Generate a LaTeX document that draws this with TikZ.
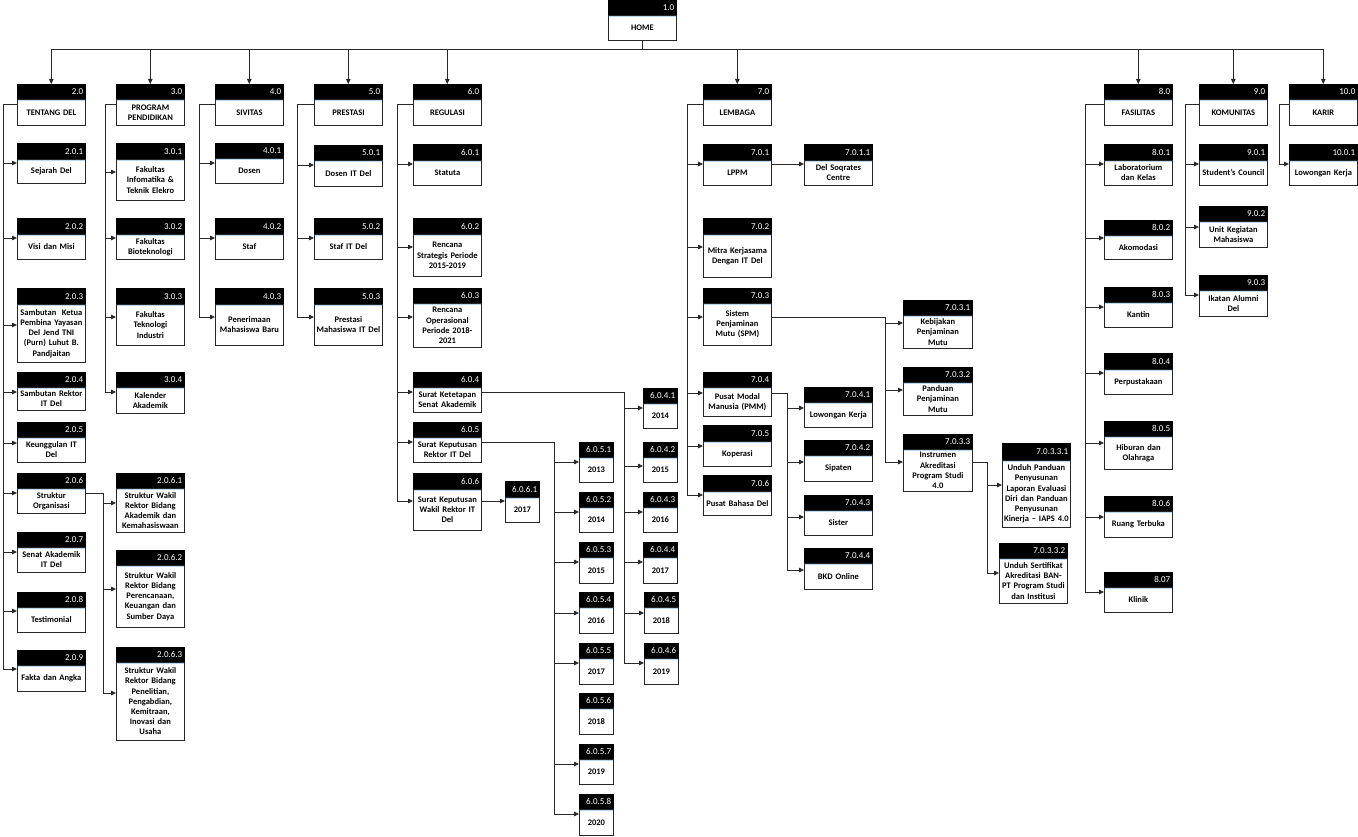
\documentclass[tikz,border=0pt]{standalone}
\usepackage{fontspec}
\setmainfont{Carlito}
\usetikzlibrary{arrows.meta}
\definecolor{lc}{RGB}{40,40,40}
\definecolor{bl}{RGB}{190,215,240}
\tikzset{
 hdr/.style={anchor=north west, fill=black, draw=black, line width=0.6pt, text=white, align=right, inner xsep=2pt, inner ysep=0pt, font=\fontsize{9}{10}\selectfont},
 bodybox/.style={anchor=north west, fill=white, draw=black!85, line width=0.8pt, align=center, inner xsep=1pt, inner ysep=1pt, font=\fontsize{8.5}{10.2}\selectfont\bfseries},
 ln/.style={draw=lc, line width=0.8pt},
 arr/.style={ln, -{Triangle[length=5pt,width=4.5pt]}},
 blueline/.style={draw=bl, line width=0.9pt}
}
% name, x, w, top, header bottom, bottom, number, text
\newcommand\bx[8]{%
  \pgfmathsetmacro\bxhh{#5-#4}%
  \pgfmathsetmacro\bxbh{#6-#5}%
  \pgfmathsetmacro\bxtw{#3-4}%
  \pgfmathsetmacro\bxbw{#3-2}%
  \node[hdr,minimum width=#3pt,minimum height=\bxhh pt,text width=\bxtw pt] (#1h) at (#2,#4) {#7};
  \node[bodybox,minimum width=#3pt,minimum height=\bxbh pt,text width=\bxbw pt] (#1) at (#2,#5) {#8};
  \draw[blueline] ([yshift=-1pt,xshift=0.6pt]#1.north west) -- ([yshift=-1pt,xshift=-0.6pt]#1.north east);
}
\newcommand\conn[3]{\draw[arr] (#1,#2) -- (#3.west |- #1,#2);}
\begin{document}
\begin{tikzpicture}[x=1pt,y=-1pt]
\useasboundingbox[fill=white] (0,0) rectangle (1358,837);
% level 0/1
\bx{n10}{608}{68}{0}{15}{40}{1.0}{HOME}
\bx{n20}{17}{68}{84}{99}{125}{2.0}{TENTANG DEL}
\bx{n30}{116}{68}{84}{99}{125}{3.0}{PROGRAM\\PENDIDIKAN}
\bx{n40}{215}{68}{84}{99}{125}{4.0}{SIVITAS}
\bx{n50}{314}{68}{84}{99}{125}{5.0}{PRESTASI}
\bx{n60}{413}{68}{84}{99}{125}{6.0}{REGULASI}
\bx{n70}{703}{68}{84}{99}{125}{7.0}{LEMBAGA}
\bx{n80}{1104}{68}{84}{99}{125}{8.0}{FASILITAS}
\bx{n90}{1199}{68}{84}{99}{125}{9.0}{KOMUNITAS}
\bx{n100}{1289}{68}{84}{99}{125}{10.0}{KARIR}
% 2.0
\bx{n201}{17}{68}{143}{159}{183}{2.0.1}{Sejarah Del}
\bx{n202}{17}{68}{218}{234}{259}{2.0.2}{Visi dan Misi}
\bx{n203}{17}{68}{288}{304}{362}{2.0.3}{Sambutan\ \ Ketua\\Pembina Yayasan\\Del Jend TNI\\(Purn) Luhut B.\\Pandjaitan}
\bx{n204}{17}{68}{372}{387}{410}{2.0.4}{Sambutan Rektor\\IT Del}
\bx{n205}{17}{68}{422}{437}{462}{2.0.5}{Keunggulan IT\\Del}
\bx{n206}{17}{68}{473}{488}{513}{2.0.6}{Struktur\\Organisasi}
\bx{n207}{17}{68}{532}{547}{572}{2.0.7}{Senat Akademik\\IT Del}
\bx{n208}{17}{68}{592}{607}{632}{2.0.8}{Testimonial}
\bx{n209}{17}{68}{650}{665}{691}{2.0.9}{Fakta dan Angka}
\bx{n2061}{116}{68}{473}{488}{532}{2.0.6.1}{Struktur Wakil\\Rektor Bidang\\Akademik dan\\Kemahasiswaan}
\bx{n2062}{116}{68}{550}{565}{627}{2.0.6.2}{Struktur Wakil\\Rektor Bidang\\Perencanaan,\\Keuangan dan\\Sumber Daya}
\bx{n2063}{116}{68}{647}{662}{740}{2.0.6.3}{Struktur Wakil\\Rektor Bidang\\Penelitian,\\Pengabdian,\\Kemitraan,\\Inovasi dan\\Usaha}
% 3.0
\bx{n301}{116}{68}{143}{159}{200}{3.0.1}{Fakultas\\Infomatika \&\\Teknik Elekro}
\bx{n302}{116}{68}{218}{234}{259}{3.0.2}{Fakultas\\Bioteknologi}
\bx{n303}{116}{68}{288}{304}{345}{3.0.3}{Fakultas\\Teknologi\\Industri}
\bx{n304}{116}{68}{372}{387}{413}{3.0.4}{Kalender\\Akademik}
% 4.0
\bx{n401}{215}{68}{143}{158}{183}{4.0.1}{Dosen}
\bx{n402}{215}{68}{218}{234}{259}{4.0.2}{Staf}
\bx{n403}{215}{68}{288}{304}{345}{4.0.3}{Penerimaan\\Mahasiswa Baru}
% 5.0
\bx{n501}{314}{68}{145}{160}{186}{5.0.1}{Dosen IT Del}
\bx{n502}{314}{68}{218}{234}{259}{5.0.2}{Staf IT Del}
\bx{n503}{314}{68}{288}{304}{345}{5.0.3}{Prestasi\\Mahasiswa IT Del}
% 6.0
\bx{n601}{413}{68}{144}{160}{185}{6.0.1}{Statuta}
\bx{n602}{413}{68}{218}{234}{276}{6.0.2}{Rencana\\Strategis Periode\\2015-2019}
\bx{n603}{413}{68}{288}{303}{347}{6.0.3}{Rencana\\Operasional\\Periode 2018-\\2021}
\bx{n604}{413}{68}{372}{387}{412}{6.0.4}{Surat Ketetapan\\Senat Akademik}
\bx{n605}{413}{68}{422}{437}{462}{6.0.5}{Surat Keputusan\\Rektor IT Del}
\bx{n606}{413}{68}{473}{489}{530}{6.0.6}{Surat Keputusan\\Wakil Rektor IT\\Del}
\bx{n6041}{643}{34}{388}{403}{428}{6.0.4.1}{2014}
\bx{n6042}{643}{34}{442}{457}{482}{6.0.4.2}{2015}
\bx{n6043}{643}{34}{492}{507}{532}{6.0.4.3}{2016}
\bx{n6044}{643}{34}{542}{557}{583}{6.0.4.4}{2017}
\bx{n6045}{644}{34}{592}{607}{633}{6.0.4.5}{2018}
\bx{n6046}{644}{34}{643}{658}{684}{6.0.4.6}{2019}
\bx{n6051}{579}{34}{442}{457}{482}{6.0.5.1}{2013}
\bx{n6052}{579}{34}{492}{507}{532}{6.0.5.2}{2014}
\bx{n6053}{579}{34}{542}{557}{583}{6.0.5.3}{2015}
\bx{n6054}{579}{34}{592}{607}{633}{6.0.5.4}{2016}
\bx{n6055}{579}{34}{643}{658}{684}{6.0.5.5}{2017}
\bx{n6056}{579}{34}{693}{708}{734}{6.0.5.6}{2018}
\bx{n6057}{579}{34}{744}{759}{784}{6.0.5.7}{2019}
\bx{n6058}{579}{34}{794}{809}{835}{6.0.5.8}{2020}
\bx{n6061}{505}{34}{481}{497}{522}{6.0.6.1}{2017}
% 7.0
\bx{n701}{703}{68}{144}{160}{185}{7.0.1}{LPPM}
\bx{n7011}{804}{68}{144}{160}{185}{7.0.1.1}{Del Soqrates\\Centre}
\bx{n702}{703}{68}{218}{234}{277}{7.0.2}{Mitra Kerjasama\\Dengan IT Del}
\bx{n703}{703}{68}{288}{303}{345}{7.0.3}{Sistem\\Penjaminan\\Mutu (SPM)}
\bx{n704}{703}{68}{372}{387}{416}{7.0.4}{Pusat Modal\\Manusia (PMM)}
\bx{n705}{703}{68}{425}{441}{466}{7.0.5}{Koperasi}
\bx{n706}{703}{68}{475}{491}{515}{7.0.6}{Pusat Bahasa Del}
\bx{n7041}{804}{68}{387}{402}{427}{7.0.4.1}{Lowongan Kerja}
\bx{n7042}{804}{68}{440}{455}{481}{7.0.4.2}{Sipaten}
\bx{n7043}{804}{68}{495}{510}{535}{7.0.4.3}{Sister}
\bx{n7044}{804}{68}{548}{563}{589}{7.0.4.4}{BKD Online}
\bx{n7031}{903}{69}{300}{315}{348}{7.0.3.1}{Kebijakan\\Penjaminan\\Mutu}
\bx{n7032}{903}{69}{367}{382}{415}{7.0.3.2}{Panduan\\Penjaminan\\Mutu}
\bx{n7033}{903}{69}{434}{449}{491}{7.0.3.3}{Instrumen\\Akreditasi\\Program Studi\\4.0}
\bx{n70331}{1002}{68}{443}{460}{527}{7.0.3.3.1}{Unduh Panduan\\Penyusunan\\Laporan Evaluasi\\Diri dan Panduan\\Penyusunan\\Kinerja – IAPS 4.0}
\bx{n70332}{999}{68}{543}{558}{603}{7.0.3.3.2}{Unduh Sertifikat\\Akreditasi BAN-\\PT Program Studi\\dan Institusi}
% 8.0
\bx{n801}{1104}{68}{144}{160}{185}{8.0.1}{Laboratorium\\dan Kelas}
\bx{n802}{1104}{68}{220}{235}{259}{8.0.2}{Akomodasi}
\bx{n803}{1104}{68}{287}{302}{327}{8.0.3}{Kantin}
\bx{n804}{1104}{68}{353}{369}{394}{8.0.4}{Perpustakaan}
\bx{n805}{1104}{68}{421}{436}{469}{8.0.5}{Hiburan dan\\Olahraga}
\bx{n806}{1104}{68}{496}{511}{537}{8.0.6}{Ruang Terbuka}
\bx{n807}{1104}{68}{572}{587}{612}{8.07}{Klinik}
% 9.0
\bx{n901}{1199}{68}{144}{160}{185}{9.0.1}{Student’s Council}
\bx{n902}{1199}{68}{206}{221}{247}{9.0.2}{Unit Kegiatan\\Mahasiswa}
\bx{n903}{1199}{68}{275}{290}{316}{9.0.3}{Ikatan Alumni\\Del}
% 10.0
\bx{n1001}{1289}{68}{144}{160}{185}{10.0.1}{Lowongan Kerja}

% top connectors
\draw[ln] (n10.south) -- (n10.south |- 0,49);
\draw[ln] (n20h.north |- 0,49) -- (n100h.north |- 0,49);
\foreach \n in {n20h,n30h,n40h,n50h,n60h,n70h,n80h,n90h,n100h}
  \draw[arr] (\n.north |- 0,49) -- (\n.north);
% trunks
\draw[ln] ([yshift=-5pt]n20.north west) -| (3,669);
\draw[ln] ([yshift=-5pt]n30.north west) -| (105,392);
\draw[ln] ([yshift=-5pt]n40.north west) -| (199,317);
\draw[ln] ([yshift=-5pt]n50.north west) -| (297,317);
\draw[ln] ([yshift=-5pt]n60.north west) -| (397,501);
\draw[ln] ([yshift=-5pt]n70.north west) -| (687,495);
\draw[ln] ([yshift=-5pt]n80.north west) -| (1085,592);
\draw[ln] ([yshift=-5pt]n90.north west) -| (1185,295);
\draw[ln] ([yshift=-5pt]n100.north west) -| (1279,164);
\draw[ln] (n206.east |- 0,493) -| (103,693);
\draw[ln] (n604.east |- 0,392) -| (624,663);
\draw[ln] (n605.east |- 0,442) -| (554,814);
\draw[ln] (n703.east |- 0,317) -| (885,462);
\draw[ln] (n704.east |- 0,393) -| (787,570);
\draw[ln] (n7033.east |- 0,462) -| (987,573);
\draw[arr] (n606.east |- 0,501) -- (n6061.west |- 0,501);
\draw[arr] (n701.east |- 0,164) -- (n7011.west |- 0,164);
% arrows
\conn{3}{163}{n201}\conn{3}{238}{n202}\conn{3}{325}{n203}\conn{3}{392}{n204}\conn{3}{443}{n205}
\conn{3}{493}{n206}\conn{3}{552}{n207}\conn{3}{611}{n208}\conn{3}{669}{n209}
\conn{103}{503}{n2061}\conn{103}{589}{n2062}\conn{103}{693}{n2063}
\conn{105}{172}{n301}\conn{105}{238}{n302}\conn{105}{317}{n303}\conn{105}{392}{n304}
\conn{199}{163}{n401}\conn{199}{238}{n402}\conn{199}{317}{n403}
\conn{297}{165}{n501}\conn{297}{238}{n502}\conn{297}{317}{n503}
\conn{397}{164}{n601}\conn{397}{247}{n602}\conn{397}{317}{n603}\conn{397}{392}{n604}\conn{397}{442}{n605}\conn{397}{501}{n606}
\conn{624}{408}{n6041}\conn{624}{466}{n6042}\conn{624}{512}{n6043}\conn{624}{562}{n6044}\conn{624}{613}{n6045}\conn{624}{663}{n6046}
\conn{554}{462}{n6051}\conn{554}{512}{n6052}\conn{554}{562}{n6053}\conn{554}{613}{n6054}\conn{554}{663}{n6055}\conn{554}{764}{n6057}\conn{554}{814}{n6058}
\conn{687}{164}{n701}\conn{687}{247}{n702}\conn{687}{317}{n703}\conn{687}{393}{n704}\conn{687}{446}{n705}\conn{687}{495}{n706}
\conn{787}{408}{n7041}\conn{787}{462}{n7042}\conn{787}{517}{n7043}\conn{787}{570}{n7044}
\conn{885}{323}{n7031}\conn{885}{390}{n7032}\conn{885}{462}{n7033}
\conn{987}{485}{n70331}\conn{987}{573}{n70332}
\conn{1085}{164}{n801}\conn{1085}{238}{n802}\conn{1085}{307}{n803}\conn{1085}{373}{n804}\conn{1085}{443}{n805}\conn{1085}{517}{n806}\conn{1085}{592}{n807}
\conn{1185}{164}{n901}\conn{1185}{227}{n902}\conn{1185}{295}{n903}
\conn{1279}{164}{n1001}
\end{tikzpicture}
\end{document}
